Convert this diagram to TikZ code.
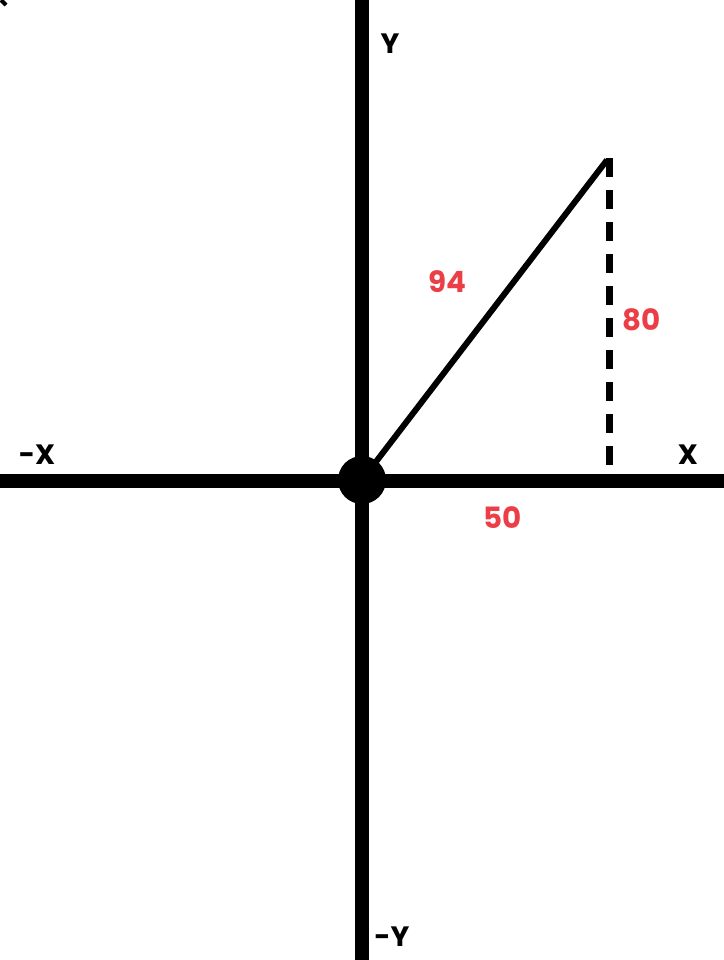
\documentclass[tikz,border=0pt]{standalone}
\usepackage{fontspec}
\setmainfont{Poppins}
\begin{document}
\begin{tikzpicture}[x=0.75pt,y=-0.75pt]

  % Define the red used for the side lengths
  \definecolor{sidered}{RGB}{235,62,70}

  % Styles for axes, labels and side lengths
  \tikzset{
    axisline/.style={line width=10.5pt},
    axislabel/.style={font=\fontsize{21}{24}\selectfont\bfseries, inner sep=0pt},
    sidelabel/.style={font=\fontsize{22}{26}\selectfont\bfseries, text=sidered, inner sep=0pt},
    hypline/.style={line width=4.5pt},
    dropline/.style={line width=5.25pt, dash pattern=on 14.25pt off 9.75pt}
  }

    % Define picture size
    \def\picwidth{724}
    \def\picheight{960}
    \useasboundingbox (0,0) rectangle (\picwidth,\picheight);

    % Axis end points
    \coordinate (xneg) at (0,481);
    \coordinate (xpos) at (\picwidth,481);
    \coordinate (ytop) at (362,0);
    \coordinate (ybot) at (362,\picheight);

    % Draw the axes
    \draw[axisline] (xneg) -- (xpos);
    \draw[axisline] (ytop) -- (ybot);

    % Small stroke in the corner
    \draw[line width=3pt] (1,0) -- (6,5);

    % Origin
    \node[circle, fill=black, minimum size=36pt, inner sep=0pt] (o) at (362,480) {};

    % Triangle points
    \coordinate (tip) at (607,160);
    \coordinate (foot) at (609,470);

    % Hypotenuse and drop line
    \draw[hypline] (o.center) -- (tip);
    \draw[dropline] (609,158) -- (foot);

    % Axis labels
    \node[axislabel] (ylab) at (390,44) {Y};
    \node[axislabel] (xlab) at (688,455) {X};
    \node[axislabel] (nxlab) at (37,455) {-X};
    \node[axislabel] (nylab) at (392,937) {-Y};

    % Side lengths
    \node[sidelabel] (hyp) at (447,282) {94};
    \node[sidelabel] (opp) at (642,320) {80};
    \node[sidelabel] (adj) at (503,518) {50};

\end{tikzpicture}
\end{document}
